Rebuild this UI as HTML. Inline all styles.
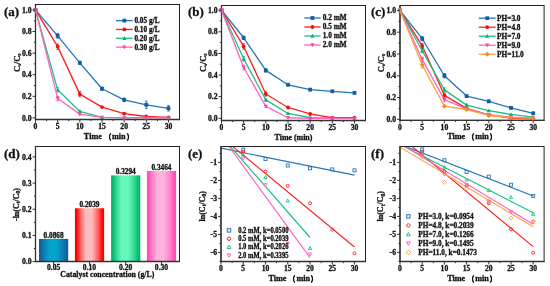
<!DOCTYPE html>
<html><head><meta charset="utf-8"><style>
html,body{margin:0;padding:0;background:#fff;width:550px;height:286px;overflow:hidden;}
svg{will-change:transform;filter:blur(0.3px);}
svg text{fill:#111;stroke:#111;stroke-width:0.3px;}
</style></head><body>
<svg width="550" height="286" viewBox="0 0 550 286" style="position:absolute;left:0;top:0">
<g style="font-family:'Liberation Serif',serif">
<clipPath id="c35"><rect x="35.5" y="4.5" width="144" height="115"/></clipPath>
<rect x="35.5" y="4.5" width="144" height="115" fill="none" stroke="#222" stroke-width="1.0"/>
<line x1="35.5" y1="4" x2="35.5" y2="120.1" stroke="#333" stroke-width="1.3"/>
<line x1="34.9" y1="119.5" x2="180" y2="119.5" stroke="#333" stroke-width="1.3"/>
<g>
<polyline points="35.5,9.9 57.66,35.82 79.83,62.82 102,88.74 124.16,99.86 146.32,104.83 168.49,108.29" fill="none" stroke="#2375b6" stroke-width="1.3" stroke-linejoin="round"/>
<line x1="57.66" y1="33.44" x2="57.66" y2="38.2" stroke="#135ea6" stroke-width="0.8"/>
<line x1="56.37" y1="33.44" x2="58.96" y2="33.44" stroke="#135ea6" stroke-width="0.8"/>
<line x1="56.37" y1="38.2" x2="58.96" y2="38.2" stroke="#135ea6" stroke-width="0.8"/>
<line x1="79.83" y1="61.2" x2="79.83" y2="64.44" stroke="#135ea6" stroke-width="0.8"/>
<line x1="78.53" y1="61.2" x2="81.13" y2="61.2" stroke="#135ea6" stroke-width="0.8"/>
<line x1="78.53" y1="64.44" x2="81.13" y2="64.44" stroke="#135ea6" stroke-width="0.8"/>
<line x1="102" y1="87.12" x2="102" y2="90.36" stroke="#135ea6" stroke-width="0.8"/>
<line x1="100.7" y1="87.12" x2="103.3" y2="87.12" stroke="#135ea6" stroke-width="0.8"/>
<line x1="100.7" y1="90.36" x2="103.3" y2="90.36" stroke="#135ea6" stroke-width="0.8"/>
<line x1="124.16" y1="98.03" x2="124.16" y2="101.7" stroke="#135ea6" stroke-width="0.8"/>
<line x1="122.86" y1="98.03" x2="125.46" y2="98.03" stroke="#135ea6" stroke-width="0.8"/>
<line x1="122.86" y1="101.7" x2="125.46" y2="101.7" stroke="#135ea6" stroke-width="0.8"/>
<line x1="146.32" y1="101.05" x2="146.32" y2="108.61" stroke="#135ea6" stroke-width="0.8"/>
<line x1="145.02" y1="101.05" x2="147.62" y2="101.05" stroke="#135ea6" stroke-width="0.8"/>
<line x1="145.02" y1="108.61" x2="147.62" y2="108.61" stroke="#135ea6" stroke-width="0.8"/>
<line x1="168.49" y1="105.59" x2="168.49" y2="110.99" stroke="#135ea6" stroke-width="0.8"/>
<line x1="167.19" y1="105.59" x2="169.79" y2="105.59" stroke="#135ea6" stroke-width="0.8"/>
<line x1="167.19" y1="110.99" x2="169.79" y2="110.99" stroke="#135ea6" stroke-width="0.8"/>
<rect x="33.6" y="8" width="3.8" height="3.8" fill="#135ea6" />
<rect x="55.77" y="33.92" width="3.8" height="3.8" fill="#135ea6" />
<rect x="77.93" y="60.92" width="3.8" height="3.8" fill="#135ea6" />
<rect x="100.09" y="86.84" width="3.8" height="3.8" fill="#135ea6" />
<rect x="122.26" y="97.96" width="3.8" height="3.8" fill="#135ea6" />
<rect x="144.42" y="102.93" width="3.8" height="3.8" fill="#135ea6" />
<rect x="166.59" y="106.39" width="3.8" height="3.8" fill="#135ea6" />
<polyline points="35.5,9.9 57.66,46.62 79.83,94.14 102,107.1 124.16,113.58 146.32,116.5 168.49,117.36" fill="none" stroke="#ff1f1f" stroke-width="1.3" stroke-linejoin="round"/>
<line x1="57.66" y1="43.92" x2="57.66" y2="49.32" stroke="#f01010" stroke-width="0.8"/>
<line x1="56.37" y1="43.92" x2="58.96" y2="43.92" stroke="#f01010" stroke-width="0.8"/>
<line x1="56.37" y1="49.32" x2="58.96" y2="49.32" stroke="#f01010" stroke-width="0.8"/>
<line x1="79.83" y1="91.44" x2="79.83" y2="96.84" stroke="#f01010" stroke-width="0.8"/>
<line x1="78.53" y1="91.44" x2="81.13" y2="91.44" stroke="#f01010" stroke-width="0.8"/>
<line x1="78.53" y1="96.84" x2="81.13" y2="96.84" stroke="#f01010" stroke-width="0.8"/>
<line x1="124.16" y1="112.5" x2="124.16" y2="114.66" stroke="#f01010" stroke-width="0.8"/>
<line x1="122.86" y1="112.5" x2="125.46" y2="112.5" stroke="#f01010" stroke-width="0.8"/>
<line x1="122.86" y1="114.66" x2="125.46" y2="114.66" stroke="#f01010" stroke-width="0.8"/>
<circle cx="35.5" cy="9.9" r="1.9" fill="#f01010" />
<circle cx="57.66" cy="46.62" r="1.9" fill="#f01010" />
<circle cx="79.83" cy="94.14" r="1.9" fill="#f01010" />
<circle cx="102" cy="107.1" r="1.9" fill="#f01010" />
<circle cx="124.16" cy="113.58" r="1.9" fill="#f01010" />
<circle cx="146.32" cy="116.5" r="1.9" fill="#f01010" />
<circle cx="168.49" cy="117.36" r="1.9" fill="#f01010" />
<polyline points="35.5,9.9 57.66,89.82 79.83,111.42 102,117.36 124.16,117.9 146.32,117.9 168.49,117.9" fill="none" stroke="#18c283" stroke-width="1.3" stroke-linejoin="round"/>
<line x1="57.66" y1="87.66" x2="57.66" y2="91.98" stroke="#0eb070" stroke-width="0.8"/>
<line x1="56.37" y1="87.66" x2="58.96" y2="87.66" stroke="#0eb070" stroke-width="0.8"/>
<line x1="56.37" y1="91.98" x2="58.96" y2="91.98" stroke="#0eb070" stroke-width="0.8"/>
<line x1="79.83" y1="110.34" x2="79.83" y2="112.5" stroke="#0eb070" stroke-width="0.8"/>
<line x1="78.53" y1="110.34" x2="81.13" y2="110.34" stroke="#0eb070" stroke-width="0.8"/>
<line x1="78.53" y1="112.5" x2="81.13" y2="112.5" stroke="#0eb070" stroke-width="0.8"/>
<polygon points="35.5,7.72 33.41,11.54 37.59,11.54" fill="#0eb070" />
<polygon points="57.66,87.64 55.58,91.46 59.75,91.46" fill="#0eb070" />
<polygon points="79.83,109.23 77.74,113.06 81.92,113.06" fill="#0eb070" />
<polygon points="102,115.17 99.91,119 104.09,119" fill="#0eb070" />
<polygon points="124.16,115.72 122.07,119.54 126.25,119.54" fill="#0eb070" />
<polygon points="146.32,115.72 144.23,119.54 148.41,119.54" fill="#0eb070" />
<polygon points="168.49,115.72 166.4,119.54 170.58,119.54" fill="#0eb070" />
<polyline points="35.5,9.9 57.66,98.46 79.83,114.12 102,117.36 124.16,117.9 146.32,117.9 168.49,117.9" fill="none" stroke="#ff62c0" stroke-width="1.3" stroke-linejoin="round"/>
<line x1="57.66" y1="96.3" x2="57.66" y2="100.62" stroke="#f548b0" stroke-width="0.8"/>
<line x1="56.37" y1="96.3" x2="58.96" y2="96.3" stroke="#f548b0" stroke-width="0.8"/>
<line x1="56.37" y1="100.62" x2="58.96" y2="100.62" stroke="#f548b0" stroke-width="0.8"/>
<line x1="79.83" y1="113.26" x2="79.83" y2="114.98" stroke="#f548b0" stroke-width="0.8"/>
<line x1="78.53" y1="113.26" x2="81.13" y2="113.26" stroke="#f548b0" stroke-width="0.8"/>
<line x1="78.53" y1="114.98" x2="81.13" y2="114.98" stroke="#f548b0" stroke-width="0.8"/>
<polygon points="35.5,12.09 33.41,8.26 37.59,8.26" fill="#f548b0" />
<polygon points="57.66,100.65 55.58,96.82 59.75,96.82" fill="#f548b0" />
<polygon points="79.83,116.31 77.74,112.48 81.92,112.48" fill="#f548b0" />
<polygon points="102,119.55 99.91,115.72 104.09,115.72" fill="#f548b0" />
<polygon points="124.16,120.09 122.07,116.26 126.25,116.26" fill="#f548b0" />
<polygon points="146.32,120.09 144.23,116.26 148.41,116.26" fill="#f548b0" />
<polygon points="168.49,120.09 166.4,116.26 170.58,116.26" fill="#f548b0" />
</g>
<line x1="35.5" y1="119.5" x2="35.5" y2="122.5" stroke="#333" stroke-width="1"/>
<text x="35.5" y="129.3" font-size="7.6" text-anchor="middle" font-weight="bold" >0</text>
<line x1="57.66" y1="119.5" x2="57.66" y2="122.5" stroke="#333" stroke-width="1"/>
<text x="57.66" y="129.3" font-size="7.6" text-anchor="middle" font-weight="bold" >5</text>
<line x1="79.83" y1="119.5" x2="79.83" y2="122.5" stroke="#333" stroke-width="1"/>
<text x="79.83" y="129.3" font-size="7.6" text-anchor="middle" font-weight="bold" >10</text>
<line x1="102" y1="119.5" x2="102" y2="122.5" stroke="#333" stroke-width="1"/>
<text x="102" y="129.3" font-size="7.6" text-anchor="middle" font-weight="bold" >15</text>
<line x1="124.16" y1="119.5" x2="124.16" y2="122.5" stroke="#333" stroke-width="1"/>
<text x="124.16" y="129.3" font-size="7.6" text-anchor="middle" font-weight="bold" >20</text>
<line x1="146.32" y1="119.5" x2="146.32" y2="122.5" stroke="#333" stroke-width="1"/>
<text x="146.32" y="129.3" font-size="7.6" text-anchor="middle" font-weight="bold" >25</text>
<line x1="168.49" y1="119.5" x2="168.49" y2="122.5" stroke="#333" stroke-width="1"/>
<text x="168.49" y="129.3" font-size="7.6" text-anchor="middle" font-weight="bold" >30</text>
<line x1="46.58" y1="119.5" x2="46.58" y2="121.1" stroke="#333" stroke-width="1"/>
<line x1="68.75" y1="119.5" x2="68.75" y2="121.1" stroke="#333" stroke-width="1"/>
<line x1="90.91" y1="119.5" x2="90.91" y2="121.1" stroke="#333" stroke-width="1"/>
<line x1="113.08" y1="119.5" x2="113.08" y2="121.1" stroke="#333" stroke-width="1"/>
<line x1="135.24" y1="119.5" x2="135.24" y2="121.1" stroke="#333" stroke-width="1"/>
<line x1="157.41" y1="119.5" x2="157.41" y2="121.1" stroke="#333" stroke-width="1"/>
<line x1="35.5" y1="117.9" x2="32.5" y2="117.9" stroke="#333" stroke-width="1"/>
<text x="31.5" y="120.5" font-size="7.7" text-anchor="end" font-weight="bold" >0.0</text>
<line x1="35.5" y1="96.3" x2="32.5" y2="96.3" stroke="#333" stroke-width="1"/>
<text x="31.5" y="98.9" font-size="7.7" text-anchor="end" font-weight="bold" >0.2</text>
<line x1="35.5" y1="74.7" x2="32.5" y2="74.7" stroke="#333" stroke-width="1"/>
<text x="31.5" y="77.3" font-size="7.7" text-anchor="end" font-weight="bold" >0.4</text>
<line x1="35.5" y1="53.1" x2="32.5" y2="53.1" stroke="#333" stroke-width="1"/>
<text x="31.5" y="55.7" font-size="7.7" text-anchor="end" font-weight="bold" >0.6</text>
<line x1="35.5" y1="31.5" x2="32.5" y2="31.5" stroke="#333" stroke-width="1"/>
<text x="31.5" y="34.1" font-size="7.7" text-anchor="end" font-weight="bold" >0.8</text>
<line x1="35.5" y1="9.9" x2="32.5" y2="9.9" stroke="#333" stroke-width="1"/>
<text x="31.5" y="12.5" font-size="7.7" text-anchor="end" font-weight="bold" >1.0</text>
<line x1="35.5" y1="107.1" x2="33.9" y2="107.1" stroke="#333" stroke-width="1"/>
<line x1="35.5" y1="85.5" x2="33.9" y2="85.5" stroke="#333" stroke-width="1"/>
<line x1="35.5" y1="63.9" x2="33.9" y2="63.9" stroke="#333" stroke-width="1"/>
<line x1="35.5" y1="42.3" x2="33.9" y2="42.3" stroke="#333" stroke-width="1"/>
<line x1="35.5" y1="20.7" x2="33.9" y2="20.7" stroke="#333" stroke-width="1"/>
<text x="4" y="15.8" font-size="13" text-anchor="start" font-weight="bold" >(a)</text>
<text x="108.7" y="138.5" font-size="8.2" text-anchor="middle" font-weight="bold" >Time （min）</text>
<text transform="translate(19.6,62.7) rotate(-90)" font-size="8.6" font-weight="bold" text-anchor="middle">C<tspan font-size="4.6" dy="1.4">t</tspan><tspan dy="-1.4">/C</tspan><tspan font-size="4.6" dy="1.4">0</tspan></text>
<line x1="116" y1="20.6" x2="132.8" y2="20.6" stroke="#2375b6" stroke-width="1.3"/>
<rect x="122.5" y="18.7" width="3.8" height="3.8" fill="#135ea6" />
<text x="134.4" y="23" font-size="7.3" text-anchor="start" font-weight="bold" >0.05 g/L</text>
<line x1="116" y1="29.45" x2="132.8" y2="29.45" stroke="#ff1f1f" stroke-width="1.3"/>
<circle cx="124.4" cy="29.45" r="1.9" fill="#f01010" />
<text x="134.4" y="31.85" font-size="7.3" text-anchor="start" font-weight="bold" >0.10 g/L</text>
<line x1="116" y1="38.3" x2="132.8" y2="38.3" stroke="#18c283" stroke-width="1.3"/>
<polygon points="124.4,36.11 122.31,39.94 126.49,39.94" fill="#0eb070" />
<text x="134.4" y="40.7" font-size="7.3" text-anchor="start" font-weight="bold" >0.20 g/L</text>
<line x1="116" y1="47.15" x2="132.8" y2="47.15" stroke="#ff62c0" stroke-width="1.3"/>
<polygon points="124.4,49.34 122.31,45.51 126.49,45.51" fill="#f548b0" />
<text x="134.4" y="49.55" font-size="7.3" text-anchor="start" font-weight="bold" >0.30 g/L</text>
<clipPath id="c221"><rect x="221.5" y="5.5" width="144" height="115"/></clipPath>
<rect x="221.5" y="5.5" width="144" height="115" fill="none" stroke="#222" stroke-width="1.0"/>
<line x1="221.5" y1="5" x2="221.5" y2="121.1" stroke="#333" stroke-width="1.3"/>
<line x1="220.9" y1="120.5" x2="366" y2="120.5" stroke="#333" stroke-width="1.3"/>
<g>
<polyline points="221.5,10.2 243.66,37.77 265.83,70.41 288,84.79 310.16,89.65 332.32,91.28 354.49,92.9" fill="none" stroke="#2375b6" stroke-width="1.3" stroke-linejoin="round"/>
<line x1="243.66" y1="36.14" x2="243.66" y2="39.39" stroke="#135ea6" stroke-width="0.8"/>
<line x1="242.36" y1="36.14" x2="244.97" y2="36.14" stroke="#135ea6" stroke-width="0.8"/>
<line x1="242.36" y1="39.39" x2="244.97" y2="39.39" stroke="#135ea6" stroke-width="0.8"/>
<line x1="265.83" y1="68.79" x2="265.83" y2="72.03" stroke="#135ea6" stroke-width="0.8"/>
<line x1="264.53" y1="68.79" x2="267.13" y2="68.79" stroke="#135ea6" stroke-width="0.8"/>
<line x1="264.53" y1="72.03" x2="267.13" y2="72.03" stroke="#135ea6" stroke-width="0.8"/>
<rect x="219.6" y="8.3" width="3.8" height="3.8" fill="#135ea6" />
<rect x="241.76" y="35.87" width="3.8" height="3.8" fill="#135ea6" />
<rect x="263.93" y="68.51" width="3.8" height="3.8" fill="#135ea6" />
<rect x="286.1" y="82.89" width="3.8" height="3.8" fill="#135ea6" />
<rect x="308.26" y="87.75" width="3.8" height="3.8" fill="#135ea6" />
<rect x="330.43" y="89.38" width="3.8" height="3.8" fill="#135ea6" />
<rect x="352.59" y="91" width="3.8" height="3.8" fill="#135ea6" />
<polyline points="221.5,10.2 243.66,46.41 265.83,93.98 288,107.49 310.16,113.98 332.32,117.76 354.49,117.76" fill="none" stroke="#ff1f1f" stroke-width="1.3" stroke-linejoin="round"/>
<line x1="243.66" y1="43.71" x2="243.66" y2="49.12" stroke="#f01010" stroke-width="0.8"/>
<line x1="242.36" y1="43.71" x2="244.97" y2="43.71" stroke="#f01010" stroke-width="0.8"/>
<line x1="242.36" y1="49.12" x2="244.97" y2="49.12" stroke="#f01010" stroke-width="0.8"/>
<line x1="265.83" y1="91.82" x2="265.83" y2="96.14" stroke="#f01010" stroke-width="0.8"/>
<line x1="264.53" y1="91.82" x2="267.13" y2="91.82" stroke="#f01010" stroke-width="0.8"/>
<line x1="264.53" y1="96.14" x2="267.13" y2="96.14" stroke="#f01010" stroke-width="0.8"/>
<circle cx="221.5" cy="10.2" r="1.9" fill="#f01010" />
<circle cx="243.66" cy="46.41" r="1.9" fill="#f01010" />
<circle cx="265.83" cy="93.98" r="1.9" fill="#f01010" />
<circle cx="288" cy="107.49" r="1.9" fill="#f01010" />
<circle cx="310.16" cy="113.98" r="1.9" fill="#f01010" />
<circle cx="332.32" cy="117.76" r="1.9" fill="#f01010" />
<circle cx="354.49" cy="117.76" r="1.9" fill="#f01010" />
<polyline points="221.5,10.2 243.66,58.84 265.83,99.92 288,113.44 310.16,117.76 332.32,118.3 354.49,118.3" fill="none" stroke="#18c283" stroke-width="1.3" stroke-linejoin="round"/>
<line x1="243.66" y1="56.68" x2="243.66" y2="61.01" stroke="#0eb070" stroke-width="0.8"/>
<line x1="242.36" y1="56.68" x2="244.97" y2="56.68" stroke="#0eb070" stroke-width="0.8"/>
<line x1="242.36" y1="61.01" x2="244.97" y2="61.01" stroke="#0eb070" stroke-width="0.8"/>
<line x1="265.83" y1="98.84" x2="265.83" y2="101" stroke="#0eb070" stroke-width="0.8"/>
<line x1="264.53" y1="98.84" x2="267.13" y2="98.84" stroke="#0eb070" stroke-width="0.8"/>
<line x1="264.53" y1="101" x2="267.13" y2="101" stroke="#0eb070" stroke-width="0.8"/>
<polygon points="221.5,8.02 219.41,11.84 223.59,11.84" fill="#0eb070" />
<polygon points="243.66,56.66 241.57,60.48 245.75,60.48" fill="#0eb070" />
<polygon points="265.83,97.74 263.74,101.56 267.92,101.56" fill="#0eb070" />
<polygon points="288,111.25 285.91,115.07 290.08,115.07" fill="#0eb070" />
<polygon points="310.16,115.57 308.07,119.4 312.25,119.4" fill="#0eb070" />
<polygon points="332.32,116.11 330.24,119.94 334.41,119.94" fill="#0eb070" />
<polygon points="354.49,116.11 352.4,119.94 356.58,119.94" fill="#0eb070" />
<polyline points="221.5,10.2 243.66,67.49 265.83,106.41 288,117.76 310.16,118.3 332.32,118.3 354.49,118.3" fill="none" stroke="#ff62c0" stroke-width="1.3" stroke-linejoin="round"/>
<line x1="243.66" y1="65.33" x2="243.66" y2="69.66" stroke="#f548b0" stroke-width="0.8"/>
<line x1="242.36" y1="65.33" x2="244.97" y2="65.33" stroke="#f548b0" stroke-width="0.8"/>
<line x1="242.36" y1="69.66" x2="244.97" y2="69.66" stroke="#f548b0" stroke-width="0.8"/>
<line x1="265.83" y1="105.33" x2="265.83" y2="107.49" stroke="#f548b0" stroke-width="0.8"/>
<line x1="264.53" y1="105.33" x2="267.13" y2="105.33" stroke="#f548b0" stroke-width="0.8"/>
<line x1="264.53" y1="107.49" x2="267.13" y2="107.49" stroke="#f548b0" stroke-width="0.8"/>
<polygon points="221.5,12.39 219.41,8.56 223.59,8.56" fill="#f548b0" />
<polygon points="243.66,69.68 241.57,65.85 245.75,65.85" fill="#f548b0" />
<polygon points="265.83,108.59 263.74,104.77 267.92,104.77" fill="#f548b0" />
<polygon points="288,119.94 285.91,116.12 290.08,116.12" fill="#f548b0" />
<polygon points="310.16,120.48 308.07,116.66 312.25,116.66" fill="#f548b0" />
<polygon points="332.32,120.48 330.24,116.66 334.41,116.66" fill="#f548b0" />
<polygon points="354.49,120.48 352.4,116.66 356.58,116.66" fill="#f548b0" />
</g>
<line x1="221.5" y1="120.5" x2="221.5" y2="123.5" stroke="#333" stroke-width="1"/>
<text x="221.5" y="130.3" font-size="7.6" text-anchor="middle" font-weight="bold" >0</text>
<line x1="243.66" y1="120.5" x2="243.66" y2="123.5" stroke="#333" stroke-width="1"/>
<text x="243.66" y="130.3" font-size="7.6" text-anchor="middle" font-weight="bold" >5</text>
<line x1="265.83" y1="120.5" x2="265.83" y2="123.5" stroke="#333" stroke-width="1"/>
<text x="265.83" y="130.3" font-size="7.6" text-anchor="middle" font-weight="bold" >10</text>
<line x1="288" y1="120.5" x2="288" y2="123.5" stroke="#333" stroke-width="1"/>
<text x="288" y="130.3" font-size="7.6" text-anchor="middle" font-weight="bold" >15</text>
<line x1="310.16" y1="120.5" x2="310.16" y2="123.5" stroke="#333" stroke-width="1"/>
<text x="310.16" y="130.3" font-size="7.6" text-anchor="middle" font-weight="bold" >20</text>
<line x1="332.32" y1="120.5" x2="332.32" y2="123.5" stroke="#333" stroke-width="1"/>
<text x="332.32" y="130.3" font-size="7.6" text-anchor="middle" font-weight="bold" >25</text>
<line x1="354.49" y1="120.5" x2="354.49" y2="123.5" stroke="#333" stroke-width="1"/>
<text x="354.49" y="130.3" font-size="7.6" text-anchor="middle" font-weight="bold" >30</text>
<line x1="232.58" y1="120.5" x2="232.58" y2="122.1" stroke="#333" stroke-width="1"/>
<line x1="254.75" y1="120.5" x2="254.75" y2="122.1" stroke="#333" stroke-width="1"/>
<line x1="276.91" y1="120.5" x2="276.91" y2="122.1" stroke="#333" stroke-width="1"/>
<line x1="299.08" y1="120.5" x2="299.08" y2="122.1" stroke="#333" stroke-width="1"/>
<line x1="321.24" y1="120.5" x2="321.24" y2="122.1" stroke="#333" stroke-width="1"/>
<line x1="343.41" y1="120.5" x2="343.41" y2="122.1" stroke="#333" stroke-width="1"/>
<line x1="221.5" y1="118.3" x2="218.5" y2="118.3" stroke="#333" stroke-width="1"/>
<text x="217.5" y="120.9" font-size="7.7" text-anchor="end" font-weight="bold" >0.0</text>
<line x1="221.5" y1="96.68" x2="218.5" y2="96.68" stroke="#333" stroke-width="1"/>
<text x="217.5" y="99.28" font-size="7.7" text-anchor="end" font-weight="bold" >0.2</text>
<line x1="221.5" y1="75.06" x2="218.5" y2="75.06" stroke="#333" stroke-width="1"/>
<text x="217.5" y="77.66" font-size="7.7" text-anchor="end" font-weight="bold" >0.4</text>
<line x1="221.5" y1="53.44" x2="218.5" y2="53.44" stroke="#333" stroke-width="1"/>
<text x="217.5" y="56.04" font-size="7.7" text-anchor="end" font-weight="bold" >0.6</text>
<line x1="221.5" y1="31.82" x2="218.5" y2="31.82" stroke="#333" stroke-width="1"/>
<text x="217.5" y="34.42" font-size="7.7" text-anchor="end" font-weight="bold" >0.8</text>
<line x1="221.5" y1="10.2" x2="218.5" y2="10.2" stroke="#333" stroke-width="1"/>
<text x="217.5" y="12.8" font-size="7.7" text-anchor="end" font-weight="bold" >1.0</text>
<line x1="221.5" y1="107.49" x2="219.9" y2="107.49" stroke="#333" stroke-width="1"/>
<line x1="221.5" y1="85.87" x2="219.9" y2="85.87" stroke="#333" stroke-width="1"/>
<line x1="221.5" y1="64.25" x2="219.9" y2="64.25" stroke="#333" stroke-width="1"/>
<line x1="221.5" y1="42.63" x2="219.9" y2="42.63" stroke="#333" stroke-width="1"/>
<line x1="221.5" y1="21.01" x2="219.9" y2="21.01" stroke="#333" stroke-width="1"/>
<text x="188" y="15.8" font-size="13" text-anchor="start" font-weight="bold" >(b)</text>
<text x="293.5" y="139.5" font-size="7.9" text-anchor="middle" font-weight="bold" >Time (min)</text>
<text transform="translate(205.5,62.7) rotate(-90)" font-size="8.6" font-weight="bold" text-anchor="middle">C<tspan font-size="4.6" dy="1.4">t</tspan><tspan dy="-1.4">/C</tspan><tspan font-size="4.6" dy="1.4">0</tspan></text>
<line x1="304.3" y1="18" x2="320.6" y2="18" stroke="#2375b6" stroke-width="1.3"/>
<rect x="310.55" y="16.1" width="3.8" height="3.8" fill="#135ea6" />
<text x="322.7" y="20.4" font-size="7.3" text-anchor="start" font-weight="bold" >0.2 mM</text>
<line x1="304.3" y1="27" x2="320.6" y2="27" stroke="#ff1f1f" stroke-width="1.3"/>
<circle cx="312.45" cy="27" r="1.9" fill="#f01010" />
<text x="322.7" y="29.4" font-size="7.3" text-anchor="start" font-weight="bold" >0.5 mM</text>
<line x1="304.3" y1="36" x2="320.6" y2="36" stroke="#18c283" stroke-width="1.3"/>
<polygon points="312.45,33.81 310.36,37.64 314.54,37.64" fill="#0eb070" />
<text x="322.7" y="38.4" font-size="7.3" text-anchor="start" font-weight="bold" >1.0 mM</text>
<line x1="304.3" y1="45" x2="320.6" y2="45" stroke="#ff62c0" stroke-width="1.3"/>
<polygon points="312.45,47.19 310.36,43.36 314.54,43.36" fill="#f548b0" />
<text x="322.7" y="47.4" font-size="7.3" text-anchor="start" font-weight="bold" >2.0 mM</text>
<clipPath id="c400"><rect x="400" y="5.5" width="144.1" height="114.8"/></clipPath>
<rect x="400" y="5.5" width="144.1" height="114.8" fill="none" stroke="#222" stroke-width="1.0"/>
<line x1="400" y1="5" x2="400" y2="120.9" stroke="#333" stroke-width="1.3"/>
<line x1="399.4" y1="120.3" x2="544.6" y2="120.3" stroke="#333" stroke-width="1.3"/>
<g>
<polyline points="400,10.4 422.2,38.71 444.4,75.74 466.6,96.1 488.8,101.33 511,107.87 533.2,113.31" fill="none" stroke="#2375b6" stroke-width="1.3" stroke-linejoin="round"/>
<line x1="422.2" y1="36.54" x2="422.2" y2="40.89" stroke="#135ea6" stroke-width="0.8"/>
<line x1="420.9" y1="36.54" x2="423.5" y2="36.54" stroke="#135ea6" stroke-width="0.8"/>
<line x1="420.9" y1="40.89" x2="423.5" y2="40.89" stroke="#135ea6" stroke-width="0.8"/>
<line x1="444.4" y1="73.56" x2="444.4" y2="77.92" stroke="#135ea6" stroke-width="0.8"/>
<line x1="443.1" y1="73.56" x2="445.7" y2="73.56" stroke="#135ea6" stroke-width="0.8"/>
<line x1="443.1" y1="77.92" x2="445.7" y2="77.92" stroke="#135ea6" stroke-width="0.8"/>
<line x1="488.8" y1="100.24" x2="488.8" y2="102.42" stroke="#135ea6" stroke-width="0.8"/>
<line x1="487.5" y1="100.24" x2="490.1" y2="100.24" stroke="#135ea6" stroke-width="0.8"/>
<line x1="487.5" y1="102.42" x2="490.1" y2="102.42" stroke="#135ea6" stroke-width="0.8"/>
<line x1="511" y1="106.99" x2="511" y2="108.74" stroke="#135ea6" stroke-width="0.8"/>
<line x1="509.7" y1="106.99" x2="512.3" y2="106.99" stroke="#135ea6" stroke-width="0.8"/>
<line x1="509.7" y1="108.74" x2="512.3" y2="108.74" stroke="#135ea6" stroke-width="0.8"/>
<line x1="533.2" y1="112.22" x2="533.2" y2="114.4" stroke="#135ea6" stroke-width="0.8"/>
<line x1="531.9" y1="112.22" x2="534.5" y2="112.22" stroke="#135ea6" stroke-width="0.8"/>
<line x1="531.9" y1="114.4" x2="534.5" y2="114.4" stroke="#135ea6" stroke-width="0.8"/>
<rect x="398.1" y="8.5" width="3.8" height="3.8" fill="#135ea6" />
<rect x="420.3" y="36.81" width="3.8" height="3.8" fill="#135ea6" />
<rect x="442.5" y="73.84" width="3.8" height="3.8" fill="#135ea6" />
<rect x="464.7" y="94.2" width="3.8" height="3.8" fill="#135ea6" />
<rect x="486.9" y="99.43" width="3.8" height="3.8" fill="#135ea6" />
<rect x="509.1" y="105.97" width="3.8" height="3.8" fill="#135ea6" />
<rect x="531.3" y="111.41" width="3.8" height="3.8" fill="#135ea6" />
<polyline points="400,10.4 422.2,45.79 444.4,95.34 466.6,108.41 488.8,114.94 511,118.21 533.2,118.76" fill="none" stroke="#ff1f1f" stroke-width="1.3" stroke-linejoin="round"/>
<line x1="422.2" y1="43.61" x2="422.2" y2="47.97" stroke="#f01010" stroke-width="0.8"/>
<line x1="420.9" y1="43.61" x2="423.5" y2="43.61" stroke="#f01010" stroke-width="0.8"/>
<line x1="420.9" y1="47.97" x2="423.5" y2="47.97" stroke="#f01010" stroke-width="0.8"/>
<line x1="444.4" y1="93.16" x2="444.4" y2="97.52" stroke="#f01010" stroke-width="0.8"/>
<line x1="443.1" y1="93.16" x2="445.7" y2="93.16" stroke="#f01010" stroke-width="0.8"/>
<line x1="443.1" y1="97.52" x2="445.7" y2="97.52" stroke="#f01010" stroke-width="0.8"/>
<circle cx="400" cy="10.4" r="1.9" fill="#f01010" />
<circle cx="422.2" cy="45.79" r="1.9" fill="#f01010" />
<circle cx="444.4" cy="95.34" r="1.9" fill="#f01010" />
<circle cx="466.6" cy="108.41" r="1.9" fill="#f01010" />
<circle cx="488.8" cy="114.94" r="1.9" fill="#f01010" />
<circle cx="511" cy="118.21" r="1.9" fill="#f01010" />
<circle cx="533.2" cy="118.76" r="1.9" fill="#f01010" />
<polyline points="400,10.4 422.2,50.69 444.4,89.9 466.6,105.14 488.8,110.59 511,114.4 533.2,117.12" fill="none" stroke="#18c283" stroke-width="1.3" stroke-linejoin="round"/>
<line x1="422.2" y1="48.51" x2="422.2" y2="52.87" stroke="#0eb070" stroke-width="0.8"/>
<line x1="420.9" y1="48.51" x2="423.5" y2="48.51" stroke="#0eb070" stroke-width="0.8"/>
<line x1="420.9" y1="52.87" x2="423.5" y2="52.87" stroke="#0eb070" stroke-width="0.8"/>
<line x1="444.4" y1="87.72" x2="444.4" y2="92.07" stroke="#0eb070" stroke-width="0.8"/>
<line x1="443.1" y1="87.72" x2="445.7" y2="87.72" stroke="#0eb070" stroke-width="0.8"/>
<line x1="443.1" y1="92.07" x2="445.7" y2="92.07" stroke="#0eb070" stroke-width="0.8"/>
<line x1="466.6" y1="104.05" x2="466.6" y2="106.23" stroke="#0eb070" stroke-width="0.8"/>
<line x1="465.3" y1="104.05" x2="467.9" y2="104.05" stroke="#0eb070" stroke-width="0.8"/>
<line x1="465.3" y1="106.23" x2="467.9" y2="106.23" stroke="#0eb070" stroke-width="0.8"/>
<polygon points="400,8.21 397.91,12.04 402.09,12.04" fill="#0eb070" />
<polygon points="422.2,48.51 420.11,52.33 424.29,52.33" fill="#0eb070" />
<polygon points="444.4,87.71 442.31,91.54 446.49,91.54" fill="#0eb070" />
<polygon points="466.6,102.96 464.51,106.78 468.69,106.78" fill="#0eb070" />
<polygon points="488.8,108.4 486.71,112.23 490.89,112.23" fill="#0eb070" />
<polygon points="511,112.21 508.91,116.04 513.09,116.04" fill="#0eb070" />
<polygon points="533.2,114.94 531.11,118.76 535.29,118.76" fill="#0eb070" />
<polyline points="400,10.4 422.2,59.4 444.4,99.7 466.6,108.95 488.8,114.94 511,117.12 533.2,118.21" fill="none" stroke="#ff62c0" stroke-width="1.3" stroke-linejoin="round"/>
<line x1="422.2" y1="57.23" x2="422.2" y2="61.58" stroke="#f548b0" stroke-width="0.8"/>
<line x1="420.9" y1="57.23" x2="423.5" y2="57.23" stroke="#f548b0" stroke-width="0.8"/>
<line x1="420.9" y1="61.58" x2="423.5" y2="61.58" stroke="#f548b0" stroke-width="0.8"/>
<line x1="444.4" y1="97.52" x2="444.4" y2="101.88" stroke="#f548b0" stroke-width="0.8"/>
<line x1="443.1" y1="97.52" x2="445.7" y2="97.52" stroke="#f548b0" stroke-width="0.8"/>
<line x1="443.1" y1="101.88" x2="445.7" y2="101.88" stroke="#f548b0" stroke-width="0.8"/>
<polygon points="400,12.58 397.91,8.76 402.09,8.76" fill="#f548b0" />
<polygon points="422.2,61.59 420.11,57.77 424.29,57.77" fill="#f548b0" />
<polygon points="444.4,101.88 442.31,98.06 446.49,98.06" fill="#f548b0" />
<polygon points="466.6,111.14 464.51,107.32 468.69,107.32" fill="#f548b0" />
<polygon points="488.8,117.13 486.71,113.31 490.89,113.31" fill="#f548b0" />
<polygon points="511,119.31 508.91,115.48 513.09,115.48" fill="#f548b0" />
<polygon points="533.2,120.4 531.11,116.57 535.29,116.57" fill="#f548b0" />
<polyline points="400,10.4 422.2,64.85 444.4,106.23 466.6,109.5 488.8,115.49 511,117.67 533.2,118.21" fill="none" stroke="#ff9f40" stroke-width="1.3" stroke-linejoin="round"/>
<line x1="422.2" y1="61.58" x2="422.2" y2="68.12" stroke="#f58a20" stroke-width="0.8"/>
<line x1="420.9" y1="61.58" x2="423.5" y2="61.58" stroke="#f58a20" stroke-width="0.8"/>
<line x1="420.9" y1="68.12" x2="423.5" y2="68.12" stroke="#f58a20" stroke-width="0.8"/>
<polygon points="400,7.93 402.47,10.4 400,12.87 397.53,10.4" fill="#f58a20" />
<polygon points="422.2,62.38 424.67,64.85 422.2,67.32 419.73,64.85" fill="#f58a20" />
<polygon points="444.4,103.76 446.87,106.23 444.4,108.7 441.93,106.23" fill="#f58a20" />
<polygon points="466.6,107.03 469.07,109.5 466.6,111.97 464.13,109.5" fill="#f58a20" />
<polygon points="488.8,113.02 491.27,115.49 488.8,117.96 486.33,115.49" fill="#f58a20" />
<polygon points="511,115.2 513.47,117.67 511,120.14 508.53,117.67" fill="#f58a20" />
<polygon points="533.2,115.74 535.67,118.21 533.2,120.68 530.73,118.21" fill="#f58a20" />
</g>
<line x1="400" y1="120.3" x2="400" y2="123.3" stroke="#333" stroke-width="1"/>
<text x="400" y="130.1" font-size="7.6" text-anchor="middle" font-weight="bold" >0</text>
<line x1="422.2" y1="120.3" x2="422.2" y2="123.3" stroke="#333" stroke-width="1"/>
<text x="422.2" y="130.1" font-size="7.6" text-anchor="middle" font-weight="bold" >5</text>
<line x1="444.4" y1="120.3" x2="444.4" y2="123.3" stroke="#333" stroke-width="1"/>
<text x="444.4" y="130.1" font-size="7.6" text-anchor="middle" font-weight="bold" >10</text>
<line x1="466.6" y1="120.3" x2="466.6" y2="123.3" stroke="#333" stroke-width="1"/>
<text x="466.6" y="130.1" font-size="7.6" text-anchor="middle" font-weight="bold" >15</text>
<line x1="488.8" y1="120.3" x2="488.8" y2="123.3" stroke="#333" stroke-width="1"/>
<text x="488.8" y="130.1" font-size="7.6" text-anchor="middle" font-weight="bold" >20</text>
<line x1="511" y1="120.3" x2="511" y2="123.3" stroke="#333" stroke-width="1"/>
<text x="511" y="130.1" font-size="7.6" text-anchor="middle" font-weight="bold" >25</text>
<line x1="533.2" y1="120.3" x2="533.2" y2="123.3" stroke="#333" stroke-width="1"/>
<text x="533.2" y="130.1" font-size="7.6" text-anchor="middle" font-weight="bold" >30</text>
<line x1="411.1" y1="120.3" x2="411.1" y2="121.9" stroke="#333" stroke-width="1"/>
<line x1="433.3" y1="120.3" x2="433.3" y2="121.9" stroke="#333" stroke-width="1"/>
<line x1="455.5" y1="120.3" x2="455.5" y2="121.9" stroke="#333" stroke-width="1"/>
<line x1="477.7" y1="120.3" x2="477.7" y2="121.9" stroke="#333" stroke-width="1"/>
<line x1="499.9" y1="120.3" x2="499.9" y2="121.9" stroke="#333" stroke-width="1"/>
<line x1="522.1" y1="120.3" x2="522.1" y2="121.9" stroke="#333" stroke-width="1"/>
<line x1="400" y1="119.3" x2="397" y2="119.3" stroke="#333" stroke-width="1"/>
<text x="396" y="121.9" font-size="7.7" text-anchor="end" font-weight="bold" >0.0</text>
<line x1="400" y1="97.52" x2="397" y2="97.52" stroke="#333" stroke-width="1"/>
<text x="396" y="100.12" font-size="7.7" text-anchor="end" font-weight="bold" >0.2</text>
<line x1="400" y1="75.74" x2="397" y2="75.74" stroke="#333" stroke-width="1"/>
<text x="396" y="78.34" font-size="7.7" text-anchor="end" font-weight="bold" >0.4</text>
<line x1="400" y1="53.96" x2="397" y2="53.96" stroke="#333" stroke-width="1"/>
<text x="396" y="56.56" font-size="7.7" text-anchor="end" font-weight="bold" >0.6</text>
<line x1="400" y1="32.18" x2="397" y2="32.18" stroke="#333" stroke-width="1"/>
<text x="396" y="34.78" font-size="7.7" text-anchor="end" font-weight="bold" >0.8</text>
<line x1="400" y1="10.4" x2="397" y2="10.4" stroke="#333" stroke-width="1"/>
<text x="396" y="13" font-size="7.7" text-anchor="end" font-weight="bold" >1.0</text>
<line x1="400" y1="108.41" x2="398.4" y2="108.41" stroke="#333" stroke-width="1"/>
<line x1="400" y1="86.63" x2="398.4" y2="86.63" stroke="#333" stroke-width="1"/>
<line x1="400" y1="64.85" x2="398.4" y2="64.85" stroke="#333" stroke-width="1"/>
<line x1="400" y1="43.07" x2="398.4" y2="43.07" stroke="#333" stroke-width="1"/>
<line x1="400" y1="21.29" x2="398.4" y2="21.29" stroke="#333" stroke-width="1"/>
<text x="371" y="15.8" font-size="13" text-anchor="start" font-weight="bold" >(c)</text>
<text x="472.05" y="139.3" font-size="8.2" text-anchor="middle" font-weight="bold" >Time （min）</text>
<text transform="translate(383.7,63) rotate(-90)" font-size="8.6" font-weight="bold" text-anchor="middle">C<tspan font-size="4.6" dy="1.4">t</tspan><tspan dy="-1.4">/C</tspan><tspan font-size="4.6" dy="1.4">0</tspan></text>
<line x1="478.7" y1="18.2" x2="495.7" y2="18.2" stroke="#2375b6" stroke-width="1.3"/>
<rect x="485.3" y="16.3" width="3.8" height="3.8" fill="#135ea6" />
<text x="497.1" y="20.6" font-size="7.3" text-anchor="start" font-weight="bold" >PH=3.0</text>
<line x1="478.7" y1="27.2" x2="495.7" y2="27.2" stroke="#ff1f1f" stroke-width="1.3"/>
<circle cx="487.2" cy="27.2" r="1.9" fill="#f01010" />
<text x="497.1" y="29.6" font-size="7.3" text-anchor="start" font-weight="bold" >PH=4.8</text>
<line x1="478.7" y1="36.2" x2="495.7" y2="36.2" stroke="#18c283" stroke-width="1.3"/>
<polygon points="487.2,34.02 485.11,37.84 489.29,37.84" fill="#0eb070" />
<text x="497.1" y="38.6" font-size="7.3" text-anchor="start" font-weight="bold" >PH=7.0</text>
<line x1="478.7" y1="45.2" x2="495.7" y2="45.2" stroke="#ff62c0" stroke-width="1.3"/>
<polygon points="487.2,47.39 485.11,43.56 489.29,43.56" fill="#f548b0" />
<text x="497.1" y="47.6" font-size="7.3" text-anchor="start" font-weight="bold" >PH=9.0</text>
<line x1="478.7" y1="54.2" x2="495.7" y2="54.2" stroke="#ff9f40" stroke-width="1.3"/>
<polygon points="487.2,51.73 489.67,54.2 487.2,56.67 484.73,54.2" fill="#f58a20" />
<text x="497.1" y="56.6" font-size="7.3" text-anchor="start" font-weight="bold" >PH=11.0</text>
<defs>
<linearGradient id="g1" x1="0" x2="1" y1="0" y2="0"><stop offset="0" stop-color="#13609e"/><stop offset="0.05" stop-color="#13609e"/><stop offset="0.2" stop-color="#0a85b7"/><stop offset="0.36" stop-color="#02a4cc"/><stop offset="0.58" stop-color="#02a4cc"/><stop offset="0.78" stop-color="#0a85b7"/><stop offset="0.95" stop-color="#13609e"/><stop offset="1" stop-color="#13609e"/></linearGradient>
<linearGradient id="g2" x1="0" x2="1" y1="0" y2="0"><stop offset="0" stop-color="#ff0000"/><stop offset="0.05" stop-color="#ff0000"/><stop offset="0.2" stop-color="#ff6767"/><stop offset="0.36" stop-color="#ffbcbc"/><stop offset="0.58" stop-color="#ffbcbc"/><stop offset="0.78" stop-color="#ff6767"/><stop offset="0.95" stop-color="#ff0000"/><stop offset="1" stop-color="#ff0000"/></linearGradient>
<linearGradient id="g3" x1="0" x2="1" y1="0" y2="0"><stop offset="0" stop-color="#00b86c"/><stop offset="0.05" stop-color="#00b86c"/><stop offset="0.2" stop-color="#38db97"/><stop offset="0.36" stop-color="#66f8bb"/><stop offset="0.58" stop-color="#66f8bb"/><stop offset="0.78" stop-color="#38db97"/><stop offset="0.95" stop-color="#00b86c"/><stop offset="1" stop-color="#00b86c"/></linearGradient>
<linearGradient id="g4" x1="0" x2="1" y1="0" y2="0"><stop offset="0" stop-color="#ff50b4"/><stop offset="0.05" stop-color="#ff50b4"/><stop offset="0.2" stop-color="#ff86ca"/><stop offset="0.36" stop-color="#ffb2dc"/><stop offset="0.58" stop-color="#ffb2dc"/><stop offset="0.78" stop-color="#ff86ca"/><stop offset="0.95" stop-color="#ff50b4"/><stop offset="1" stop-color="#ff50b4"/></linearGradient>
</defs>
<rect x="39" y="238.88" width="29.2" height="22.72" fill="url(#g1)"/>
<text x="53.6" y="237.68" font-size="7.3" text-anchor="middle" font-weight="bold" >0.0868</text>
<rect x="74.9" y="208.24" width="29.2" height="53.36" fill="url(#g2)"/>
<text x="89.5" y="207.04" font-size="7.3" text-anchor="middle" font-weight="bold" >0.2039</text>
<rect x="111.1" y="175.4" width="29.2" height="86.2" fill="url(#g3)"/>
<text x="125.7" y="174.2" font-size="7.3" text-anchor="middle" font-weight="bold" >0.3294</text>
<rect x="146.9" y="170.95" width="29.2" height="90.65" fill="url(#g4)"/>
<text x="161.5" y="169.75" font-size="7.3" text-anchor="middle" font-weight="bold" >0.3464</text>
<rect x="35.5" y="146.5" width="144" height="115" fill="none" stroke="#222" stroke-width="1.0"/>
<line x1="35.5" y1="146" x2="35.5" y2="262.1" stroke="#333" stroke-width="1.3"/>
<line x1="34.9" y1="261.5" x2="180" y2="261.5" stroke="#333" stroke-width="1.3"/>
<line x1="53.6" y1="261.5" x2="53.6" y2="264.5" stroke="#333" stroke-width="1"/>
<text x="53.6" y="269.6" font-size="7.6" text-anchor="middle" font-weight="bold" >0.05</text>
<line x1="89.5" y1="261.5" x2="89.5" y2="264.5" stroke="#333" stroke-width="1"/>
<text x="89.5" y="269.6" font-size="7.6" text-anchor="middle" font-weight="bold" >0.10</text>
<line x1="125.7" y1="261.5" x2="125.7" y2="264.5" stroke="#333" stroke-width="1"/>
<text x="125.7" y="269.6" font-size="7.6" text-anchor="middle" font-weight="bold" >0.20</text>
<line x1="161.5" y1="261.5" x2="161.5" y2="264.5" stroke="#333" stroke-width="1"/>
<text x="161.5" y="269.6" font-size="7.6" text-anchor="middle" font-weight="bold" >0.30</text>
<line x1="35.5" y1="261.6" x2="32.5" y2="261.6" stroke="#333" stroke-width="1"/>
<text x="31.5" y="264.2" font-size="7.7" text-anchor="end" font-weight="bold" >0.0</text>
<line x1="35.5" y1="235.43" x2="32.5" y2="235.43" stroke="#333" stroke-width="1"/>
<text x="31.5" y="238.03" font-size="7.7" text-anchor="end" font-weight="bold" >0.1</text>
<line x1="35.5" y1="209.26" x2="32.5" y2="209.26" stroke="#333" stroke-width="1"/>
<text x="31.5" y="211.86" font-size="7.7" text-anchor="end" font-weight="bold" >0.2</text>
<line x1="35.5" y1="183.09" x2="32.5" y2="183.09" stroke="#333" stroke-width="1"/>
<text x="31.5" y="185.69" font-size="7.7" text-anchor="end" font-weight="bold" >0.3</text>
<line x1="35.5" y1="156.92" x2="32.5" y2="156.92" stroke="#333" stroke-width="1"/>
<text x="31.5" y="159.52" font-size="7.7" text-anchor="end" font-weight="bold" >0.4</text>
<line x1="35.5" y1="248.52" x2="33.9" y2="248.52" stroke="#333" stroke-width="1"/>
<line x1="35.5" y1="222.35" x2="33.9" y2="222.35" stroke="#333" stroke-width="1"/>
<line x1="35.5" y1="196.18" x2="33.9" y2="196.18" stroke="#333" stroke-width="1"/>
<line x1="35.5" y1="170.01" x2="33.9" y2="170.01" stroke="#333" stroke-width="1"/>
<text x="4" y="157.8" font-size="13" text-anchor="start" font-weight="bold" >(d)</text>
<text x="107.3" y="276.7" font-size="7.8" text-anchor="middle" font-weight="bold" >Catalyst concentration (g/L)</text>
<text transform="translate(18.5,204.5) rotate(-90)" font-size="8" font-weight="bold" text-anchor="middle">-ln(C<tspan font-size="5.5" dy="1.5">t</tspan><tspan dy="-1.5">/C</tspan><tspan font-size="5.5" dy="1.5">0</tspan><tspan dy="-1.5">)</tspan></text>
<clipPath id="c2210"><rect x="221" y="146.5" width="144.5" height="115"/></clipPath>
<g clip-path="url(#c2210)">
<line x1="221" y1="148.18" x2="354.5" y2="175.18" stroke="#2375b6" stroke-width="1.15"/>
<line x1="221" y1="136.84" x2="354.5" y2="246.95" stroke="#ff1f1f" stroke-width="1.15"/>
<line x1="221" y1="135.76" x2="310" y2="237.5" stroke="#18c283" stroke-width="1.15"/>
<line x1="221" y1="135.4" x2="310" y2="257.62" stroke="#ff62c0" stroke-width="1.15"/>
<rect x="241.75" y="148.12" width="3" height="3" fill="none" stroke="#2375b6" stroke-width="0.9"/>
<rect x="264" y="157.48" width="3" height="3" fill="none" stroke="#2375b6" stroke-width="0.9"/>
<rect x="286.25" y="163.96" width="3" height="3" fill="none" stroke="#2375b6" stroke-width="0.9"/>
<rect x="308.5" y="166.84" width="3" height="3" fill="none" stroke="#2375b6" stroke-width="0.9"/>
<rect x="330.75" y="167.92" width="3" height="3" fill="none" stroke="#2375b6" stroke-width="0.9"/>
<rect x="353" y="168.82" width="3" height="3" fill="none" stroke="#2375b6" stroke-width="0.9"/>
<circle cx="243.25" cy="151.78" r="1.5" fill="none" stroke="#ff1f1f" stroke-width="0.9"/>
<circle cx="265.5" cy="171.58" r="1.5" fill="none" stroke="#ff1f1f" stroke-width="0.9"/>
<circle cx="287.75" cy="185.8" r="1.5" fill="none" stroke="#ff1f1f" stroke-width="0.9"/>
<circle cx="310" cy="203.26" r="1.5" fill="none" stroke="#ff1f1f" stroke-width="0.9"/>
<circle cx="332.25" cy="229.72" r="1.5" fill="none" stroke="#ff1f1f" stroke-width="0.9"/>
<circle cx="354.5" cy="253.3" r="1.5" fill="none" stroke="#ff1f1f" stroke-width="0.9"/>
<polygon points="243.25,153.3 241.6,156.31 244.9,156.31" fill="none" stroke="#18c283" stroke-width="0.9"/>
<polygon points="265.5,175.62 263.85,178.63 267.15,178.63" fill="none" stroke="#18c283" stroke-width="0.9"/>
<polygon points="287.75,199.02 286.1,202.03 289.4,202.03" fill="none" stroke="#18c283" stroke-width="0.9"/>
<polygon points="310,246.53 308.35,249.55 311.65,249.55" fill="none" stroke="#18c283" stroke-width="0.9"/>
<polygon points="243.25,159.81 241.6,156.79 244.9,156.79" fill="none" stroke="#ff62c0" stroke-width="0.9"/>
<polygon points="265.5,186.62 263.85,183.61 267.15,183.61" fill="none" stroke="#ff62c0" stroke-width="0.9"/>
<polygon points="287.75,245.12 286.1,242.11 289.4,242.11" fill="none" stroke="#ff62c0" stroke-width="0.9"/>
<polygon points="310,255.92 308.35,252.91 311.65,252.91" fill="none" stroke="#ff62c0" stroke-width="0.9"/>
</g>
<rect x="221" y="146.5" width="144.5" height="115" fill="none" stroke="#222" stroke-width="1.0"/>
<line x1="221" y1="146" x2="221" y2="262.1" stroke="#333" stroke-width="1.3"/>
<line x1="220.4" y1="261.5" x2="366" y2="261.5" stroke="#333" stroke-width="1.3"/>
<line x1="221" y1="261.5" x2="221" y2="264.5" stroke="#333" stroke-width="1"/>
<text x="221" y="271.3" font-size="7.6" text-anchor="middle" font-weight="bold" >0</text>
<line x1="243.25" y1="261.5" x2="243.25" y2="264.5" stroke="#333" stroke-width="1"/>
<text x="243.25" y="271.3" font-size="7.6" text-anchor="middle" font-weight="bold" >5</text>
<line x1="265.5" y1="261.5" x2="265.5" y2="264.5" stroke="#333" stroke-width="1"/>
<text x="265.5" y="271.3" font-size="7.6" text-anchor="middle" font-weight="bold" >10</text>
<line x1="287.75" y1="261.5" x2="287.75" y2="264.5" stroke="#333" stroke-width="1"/>
<text x="287.75" y="271.3" font-size="7.6" text-anchor="middle" font-weight="bold" >15</text>
<line x1="310" y1="261.5" x2="310" y2="264.5" stroke="#333" stroke-width="1"/>
<text x="310" y="271.3" font-size="7.6" text-anchor="middle" font-weight="bold" >20</text>
<line x1="332.25" y1="261.5" x2="332.25" y2="264.5" stroke="#333" stroke-width="1"/>
<text x="332.25" y="271.3" font-size="7.6" text-anchor="middle" font-weight="bold" >25</text>
<line x1="354.5" y1="261.5" x2="354.5" y2="264.5" stroke="#333" stroke-width="1"/>
<text x="354.5" y="271.3" font-size="7.6" text-anchor="middle" font-weight="bold" >30</text>
<line x1="232.12" y1="261.5" x2="232.12" y2="263.1" stroke="#333" stroke-width="1"/>
<line x1="254.38" y1="261.5" x2="254.38" y2="263.1" stroke="#333" stroke-width="1"/>
<line x1="276.62" y1="261.5" x2="276.62" y2="263.1" stroke="#333" stroke-width="1"/>
<line x1="298.88" y1="261.5" x2="298.88" y2="263.1" stroke="#333" stroke-width="1"/>
<line x1="321.12" y1="261.5" x2="321.12" y2="263.1" stroke="#333" stroke-width="1"/>
<line x1="343.38" y1="261.5" x2="343.38" y2="263.1" stroke="#333" stroke-width="1"/>
<line x1="221" y1="162.4" x2="218" y2="162.4" stroke="#333" stroke-width="1"/>
<text x="217" y="165" font-size="7.7" text-anchor="end" font-weight="bold" >-1</text>
<line x1="221" y1="180.4" x2="218" y2="180.4" stroke="#333" stroke-width="1"/>
<text x="217" y="183" font-size="7.7" text-anchor="end" font-weight="bold" >-2</text>
<line x1="221" y1="198.4" x2="218" y2="198.4" stroke="#333" stroke-width="1"/>
<text x="217" y="201" font-size="7.7" text-anchor="end" font-weight="bold" >-3</text>
<line x1="221" y1="216.4" x2="218" y2="216.4" stroke="#333" stroke-width="1"/>
<text x="217" y="219" font-size="7.7" text-anchor="end" font-weight="bold" >-4</text>
<line x1="221" y1="234.4" x2="218" y2="234.4" stroke="#333" stroke-width="1"/>
<text x="217" y="237" font-size="7.7" text-anchor="end" font-weight="bold" >-5</text>
<line x1="221" y1="252.4" x2="218" y2="252.4" stroke="#333" stroke-width="1"/>
<text x="217" y="255" font-size="7.7" text-anchor="end" font-weight="bold" >-6</text>
<line x1="221" y1="153.4" x2="219.4" y2="153.4" stroke="#333" stroke-width="1"/>
<line x1="221" y1="171.4" x2="219.4" y2="171.4" stroke="#333" stroke-width="1"/>
<line x1="221" y1="189.4" x2="219.4" y2="189.4" stroke="#333" stroke-width="1"/>
<line x1="221" y1="207.4" x2="219.4" y2="207.4" stroke="#333" stroke-width="1"/>
<line x1="221" y1="225.4" x2="219.4" y2="225.4" stroke="#333" stroke-width="1"/>
<line x1="221" y1="243.4" x2="219.4" y2="243.4" stroke="#333" stroke-width="1"/>
<line x1="221" y1="261.4" x2="219.4" y2="261.4" stroke="#333" stroke-width="1"/>
<text x="188" y="157.8" font-size="13" text-anchor="start" font-weight="bold" >(e)</text>
<text x="293.25" y="280.5" font-size="8.2" text-anchor="middle" font-weight="bold" >Time （min）</text>
<text transform="translate(204.8,206.3) rotate(-90)" font-size="8" font-weight="bold" text-anchor="middle">ln(C<tspan font-size="5.5" dy="1.5">t</tspan><tspan dy="-1.5">/C</tspan><tspan font-size="5.5" dy="1.5">0</tspan><tspan dy="-1.5">)</tspan></text>
<rect x="227.3" y="228.7" width="3.4" height="3.4" fill="none" stroke="#2375b6" stroke-width="1.0"/>
<text x="238.2" y="232.8" font-size="7.2" text-anchor="start" font-weight="bold" textLength="50.3" lengthAdjust="spacingAndGlyphs">0.2 mM, k=0.0500</text>
<circle cx="229" cy="238.7" r="1.7" fill="none" stroke="#ff1f1f" stroke-width="1.0"/>
<text x="238.2" y="241.1" font-size="7.2" text-anchor="start" font-weight="bold" textLength="50.3" lengthAdjust="spacingAndGlyphs">0.5 mM, k=0.2039</text>
<polygon points="229,245.04 227.13,248.47 230.87,248.47" fill="none" stroke="#18c283" stroke-width="1.0"/>
<text x="238.2" y="249.4" font-size="7.2" text-anchor="start" font-weight="bold" textLength="50.3" lengthAdjust="spacingAndGlyphs">1.0 mM, k=0.2826</text>
<polygon points="229,257.25 227.13,253.83 230.87,253.83" fill="none" stroke="#ff62c0" stroke-width="1.0"/>
<text x="238.2" y="257.7" font-size="7.2" text-anchor="start" font-weight="bold" textLength="50.3" lengthAdjust="spacingAndGlyphs">2.0 mM, k=0.3395</text>
<clipPath id="c4000"><rect x="400" y="146.5" width="144.1" height="115"/></clipPath>
<g clip-path="url(#c4000)">
<line x1="400" y1="144.4" x2="533.2" y2="195.92" stroke="#2375b6" stroke-width="1.15"/>
<line x1="400" y1="136.48" x2="533.2" y2="246.59" stroke="#ff1f1f" stroke-width="1.15"/>
<line x1="400" y1="144.4" x2="533.2" y2="212.76" stroke="#18c283" stroke-width="1.15"/>
<line x1="400" y1="143.5" x2="533.2" y2="224.23" stroke="#ff62c0" stroke-width="1.15"/>
<line x1="400" y1="147.19" x2="533.2" y2="226.73" stroke="#ff9f40" stroke-width="1.15"/>
<rect x="420.7" y="147.94" width="3" height="3" fill="none" stroke="#2375b6" stroke-width="0.9"/>
<rect x="442.9" y="158.74" width="3" height="3" fill="none" stroke="#2375b6" stroke-width="0.9"/>
<rect x="465.1" y="170.44" width="3" height="3" fill="none" stroke="#2375b6" stroke-width="0.9"/>
<rect x="487.3" y="175.12" width="3" height="3" fill="none" stroke="#2375b6" stroke-width="0.9"/>
<rect x="509.5" y="183.22" width="3" height="3" fill="none" stroke="#2375b6" stroke-width="0.9"/>
<rect x="531.7" y="194.38" width="3" height="3" fill="none" stroke="#2375b6" stroke-width="0.9"/>
<circle cx="422.2" cy="151.78" r="1.5" fill="none" stroke="#ff1f1f" stroke-width="0.9"/>
<circle cx="444.4" cy="171.22" r="1.5" fill="none" stroke="#ff1f1f" stroke-width="0.9"/>
<circle cx="466.6" cy="185.8" r="1.5" fill="none" stroke="#ff1f1f" stroke-width="0.9"/>
<circle cx="488.8" cy="203.26" r="1.5" fill="none" stroke="#ff1f1f" stroke-width="0.9"/>
<circle cx="511" cy="229.36" r="1.5" fill="none" stroke="#ff1f1f" stroke-width="0.9"/>
<circle cx="533.2" cy="252.76" r="1.5" fill="none" stroke="#ff1f1f" stroke-width="0.9"/>
<polygon points="422.2,150.96 420.55,153.97 423.85,153.97" fill="none" stroke="#18c283" stroke-width="0.9"/>
<polygon points="444.4,165.36 442.75,168.37 446.05,168.37" fill="none" stroke="#18c283" stroke-width="0.9"/>
<polygon points="466.6,177.96 464.95,180.97 468.25,180.97" fill="none" stroke="#18c283" stroke-width="0.9"/>
<polygon points="488.8,188.58 487.15,191.59 490.45,191.59" fill="none" stroke="#18c283" stroke-width="0.9"/>
<polygon points="511,195.59 509.35,198.61 512.65,198.61" fill="none" stroke="#18c283" stroke-width="0.9"/>
<polygon points="533.2,212.34 531.55,215.35 534.85,215.35" fill="none" stroke="#18c283" stroke-width="0.9"/>
<polygon points="422.2,156.93 420.55,153.91 423.85,153.91" fill="none" stroke="#ff62c0" stroke-width="0.9"/>
<polygon points="444.4,176.19 442.75,173.17 446.05,173.17" fill="none" stroke="#ff62c0" stroke-width="0.9"/>
<polygon points="466.6,186.62 464.95,183.61 468.25,183.61" fill="none" stroke="#ff62c0" stroke-width="0.9"/>
<polygon points="488.8,203.72 487.15,200.71 490.45,200.71" fill="none" stroke="#ff62c0" stroke-width="0.9"/>
<polygon points="511,213.62 509.35,210.61 512.65,210.61" fill="none" stroke="#ff62c0" stroke-width="0.9"/>
<polygon points="533.2,223.53 531.55,220.51 534.85,220.51" fill="none" stroke="#ff62c0" stroke-width="0.9"/>
<polygon points="422.2,154.87 424.15,156.82 422.2,158.77 420.25,156.82" fill="none" stroke="#ff9f40" stroke-width="0.9"/>
<polygon points="444.4,180.43 446.35,182.38 444.4,184.33 442.45,182.38" fill="none" stroke="#ff9f40" stroke-width="0.9"/>
<polygon points="466.6,187.09 468.55,189.04 466.6,190.99 464.65,189.04" fill="none" stroke="#ff9f40" stroke-width="0.9"/>
<polygon points="488.8,198.61 490.75,200.56 488.8,202.51 486.85,200.56" fill="none" stroke="#ff9f40" stroke-width="0.9"/>
<polygon points="511,216.07 512.95,218.02 511,219.97 509.05,218.02" fill="none" stroke="#ff9f40" stroke-width="0.9"/>
<polygon points="533.2,219.31 535.15,221.26 533.2,223.21 531.25,221.26" fill="none" stroke="#ff9f40" stroke-width="0.9"/>
</g>
<rect x="400" y="146.5" width="144.1" height="115" fill="none" stroke="#222" stroke-width="1.0"/>
<line x1="400" y1="146" x2="400" y2="262.1" stroke="#333" stroke-width="1.3"/>
<line x1="399.4" y1="261.5" x2="544.6" y2="261.5" stroke="#333" stroke-width="1.3"/>
<line x1="400" y1="261.5" x2="400" y2="264.5" stroke="#333" stroke-width="1"/>
<text x="400" y="271.3" font-size="7.6" text-anchor="middle" font-weight="bold" >0</text>
<line x1="422.2" y1="261.5" x2="422.2" y2="264.5" stroke="#333" stroke-width="1"/>
<text x="422.2" y="271.3" font-size="7.6" text-anchor="middle" font-weight="bold" >5</text>
<line x1="444.4" y1="261.5" x2="444.4" y2="264.5" stroke="#333" stroke-width="1"/>
<text x="444.4" y="271.3" font-size="7.6" text-anchor="middle" font-weight="bold" >10</text>
<line x1="466.6" y1="261.5" x2="466.6" y2="264.5" stroke="#333" stroke-width="1"/>
<text x="466.6" y="271.3" font-size="7.6" text-anchor="middle" font-weight="bold" >15</text>
<line x1="488.8" y1="261.5" x2="488.8" y2="264.5" stroke="#333" stroke-width="1"/>
<text x="488.8" y="271.3" font-size="7.6" text-anchor="middle" font-weight="bold" >20</text>
<line x1="511" y1="261.5" x2="511" y2="264.5" stroke="#333" stroke-width="1"/>
<text x="511" y="271.3" font-size="7.6" text-anchor="middle" font-weight="bold" >25</text>
<line x1="533.2" y1="261.5" x2="533.2" y2="264.5" stroke="#333" stroke-width="1"/>
<text x="533.2" y="271.3" font-size="7.6" text-anchor="middle" font-weight="bold" >30</text>
<line x1="411.1" y1="261.5" x2="411.1" y2="263.1" stroke="#333" stroke-width="1"/>
<line x1="433.3" y1="261.5" x2="433.3" y2="263.1" stroke="#333" stroke-width="1"/>
<line x1="455.5" y1="261.5" x2="455.5" y2="263.1" stroke="#333" stroke-width="1"/>
<line x1="477.7" y1="261.5" x2="477.7" y2="263.1" stroke="#333" stroke-width="1"/>
<line x1="499.9" y1="261.5" x2="499.9" y2="263.1" stroke="#333" stroke-width="1"/>
<line x1="522.1" y1="261.5" x2="522.1" y2="263.1" stroke="#333" stroke-width="1"/>
<line x1="400" y1="162.4" x2="397" y2="162.4" stroke="#333" stroke-width="1"/>
<text x="396" y="165" font-size="7.7" text-anchor="end" font-weight="bold" >-1</text>
<line x1="400" y1="180.4" x2="397" y2="180.4" stroke="#333" stroke-width="1"/>
<text x="396" y="183" font-size="7.7" text-anchor="end" font-weight="bold" >-2</text>
<line x1="400" y1="198.4" x2="397" y2="198.4" stroke="#333" stroke-width="1"/>
<text x="396" y="201" font-size="7.7" text-anchor="end" font-weight="bold" >-3</text>
<line x1="400" y1="216.4" x2="397" y2="216.4" stroke="#333" stroke-width="1"/>
<text x="396" y="219" font-size="7.7" text-anchor="end" font-weight="bold" >-4</text>
<line x1="400" y1="234.4" x2="397" y2="234.4" stroke="#333" stroke-width="1"/>
<text x="396" y="237" font-size="7.7" text-anchor="end" font-weight="bold" >-5</text>
<line x1="400" y1="252.4" x2="397" y2="252.4" stroke="#333" stroke-width="1"/>
<text x="396" y="255" font-size="7.7" text-anchor="end" font-weight="bold" >-6</text>
<line x1="400" y1="153.4" x2="398.4" y2="153.4" stroke="#333" stroke-width="1"/>
<line x1="400" y1="171.4" x2="398.4" y2="171.4" stroke="#333" stroke-width="1"/>
<line x1="400" y1="189.4" x2="398.4" y2="189.4" stroke="#333" stroke-width="1"/>
<line x1="400" y1="207.4" x2="398.4" y2="207.4" stroke="#333" stroke-width="1"/>
<line x1="400" y1="225.4" x2="398.4" y2="225.4" stroke="#333" stroke-width="1"/>
<line x1="400" y1="243.4" x2="398.4" y2="243.4" stroke="#333" stroke-width="1"/>
<line x1="400" y1="261.4" x2="398.4" y2="261.4" stroke="#333" stroke-width="1"/>
<text x="371" y="157.8" font-size="13" text-anchor="start" font-weight="bold" >(f)</text>
<text x="472.05" y="280.5" font-size="8.2" text-anchor="middle" font-weight="bold" >Time （min）</text>
<text transform="translate(383.3,206.3) rotate(-90)" font-size="8" font-weight="bold" text-anchor="middle">ln(C<tspan font-size="5.5" dy="1.5">t</tspan><tspan dy="-1.5">/C</tspan><tspan font-size="5.5" dy="1.5">0</tspan><tspan dy="-1.5">)</tspan></text>
<rect x="406.7" y="214.7" width="3.4" height="3.4" fill="none" stroke="#2375b6" stroke-width="1.0"/>
<text x="418.3" y="218.8" font-size="7.3" text-anchor="start" font-weight="bold" >PH=3.0, k=0.0954</text>
<circle cx="408.4" cy="225.4" r="1.7" fill="none" stroke="#ff1f1f" stroke-width="1.0"/>
<text x="418.3" y="227.8" font-size="7.3" text-anchor="start" font-weight="bold" >PH=4.8, k=0.2039</text>
<polygon points="408.4,232.44 406.53,235.87 410.27,235.87" fill="none" stroke="#18c283" stroke-width="1.0"/>
<text x="418.3" y="236.8" font-size="7.3" text-anchor="start" font-weight="bold" >PH=7.0, k=0.1266</text>
<polygon points="408.4,245.36 406.53,241.93 410.27,241.93" fill="none" stroke="#ff62c0" stroke-width="1.0"/>
<text x="418.3" y="245.8" font-size="7.3" text-anchor="start" font-weight="bold" >PH=9.0, k=0.1495</text>
<polygon points="408.4,250.19 410.61,252.4 408.4,254.61 406.19,252.4" fill="none" stroke="#ff9f40" stroke-width="1.0"/>
<text x="418.3" y="254.8" font-size="7.3" text-anchor="start" font-weight="bold" >PH=11.0, k=0.1473</text>
</g></svg>
</body></html>
